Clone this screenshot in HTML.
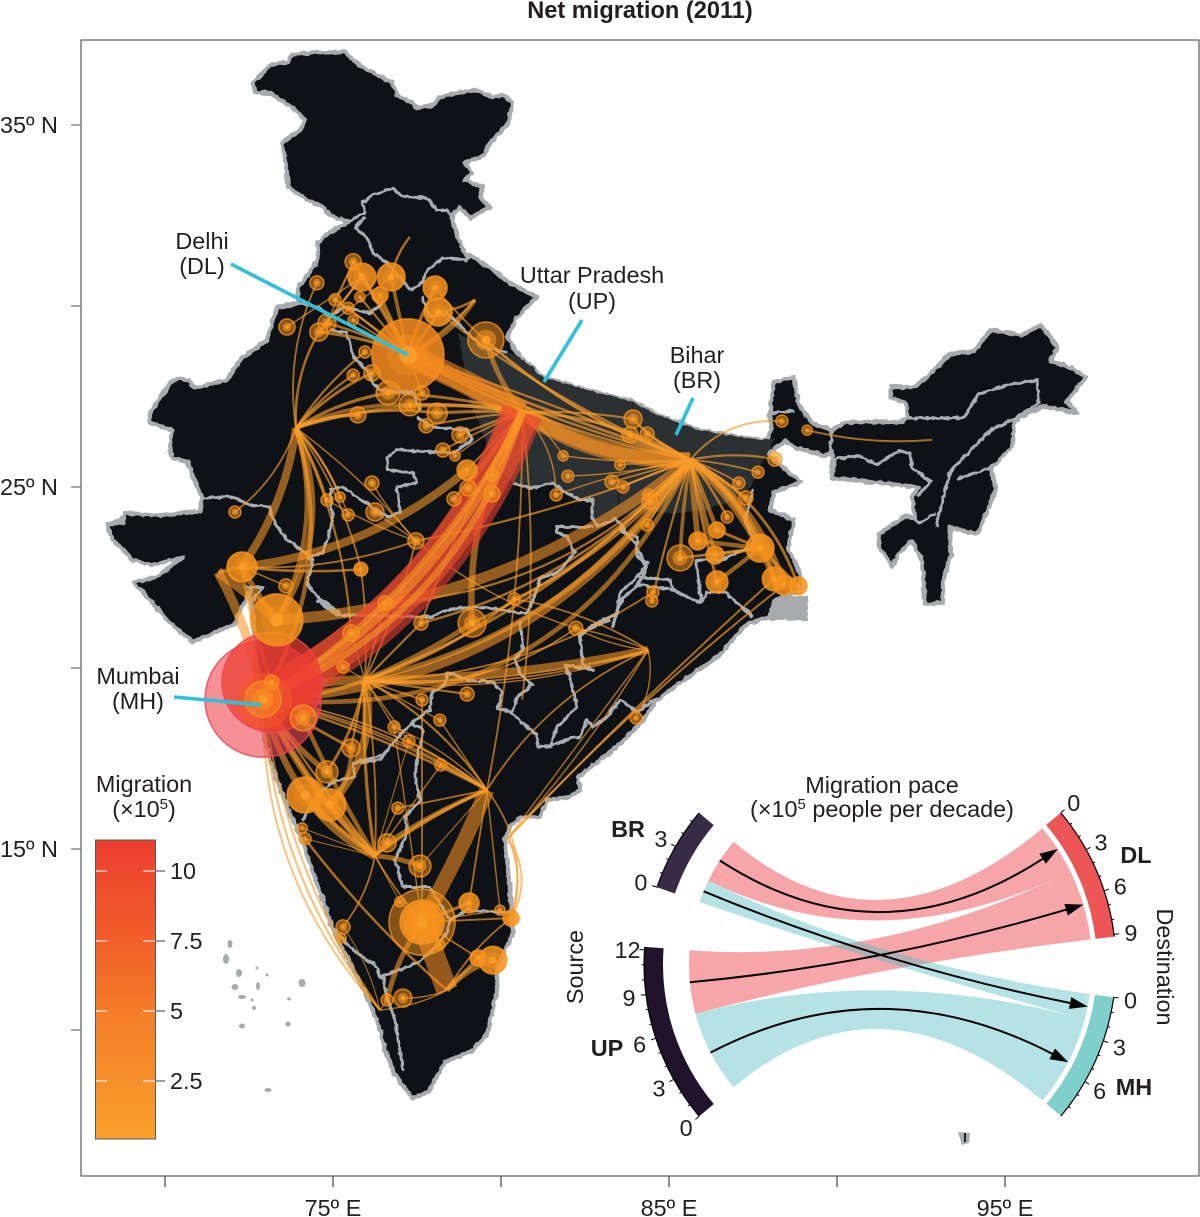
<!DOCTYPE html>
<html lang="en">
<head>
<meta charset="utf-8">
<title>Net migration (2011)</title>
<style>
html,body{margin:0;padding:0;background:#fff;}
svg{display:block;}
text{font-family:"Liberation Sans",sans-serif;fill:#231f20;}
</style>
</head>
<body>
<svg id="chart" xmlns="http://www.w3.org/2000/svg" width="1200" height="1217" viewBox="0 0 1200 1217">
<defs>
<filter id="rough" filterUnits="userSpaceOnUse" x="0" y="0" width="1200" height="1217" color-interpolation-filters="sRGB">
<feTurbulence type="fractalNoise" baseFrequency="0.17" numOctaves="2" seed="4" result="n"/>
<feDisplacementMap in="SourceGraphic" in2="n" scale="4" xChannelSelector="R" yChannelSelector="G"/>
</filter>
<linearGradient id="legendGrad" x1="0" y1="0" x2="0" y2="1">
<stop offset="0" stop-color="#ec3f31"/>
<stop offset="0.3" stop-color="#f15a29"/>
<stop offset="0.6" stop-color="#f47f29"/>
<stop offset="1" stop-color="#f9a02b"/>
</linearGradient>
</defs>

<text x="640" y="18" font-size="23.6" font-weight="bold" text-anchor="middle">Net migration (2011)</text>
<rect x="81" y="40" width="1118" height="1136" fill="none" stroke="#58595b" stroke-width="1.2"/>
<g id="axes"></g>

<g filter="url(#rough)">
<path d="M768,596L808,596L808,621L770,620Z" fill="#a7abad"/>
<path d="M106,522L128,514L124,540L108,536Z" fill="#a7abad"/>
<path fill="#0e1216" stroke="#a7abad" stroke-width="4.2" stroke-linejoin="round" d="M253,83L270,65L288,62L292,55L317,52L327,53L345,52L357,63L373,73L393,83L397,95L413,103L417,108L433,105L440,97L457,93L477,90L493,97L503,95L513,103L508,123L493,140L487,147L485,155L465,163L472,172L465,180L483,187L480,197L490,207L470,218L460,207L452,215L453,223L462,248L468,258L470,255L493,270L510,283L537,297L517,317L507,337L520,357L543,377L560,382L594,392L631,401L658,415L677,422L698,430L722,434L750,439L767,439L771,430L770,413L774,382L794,377L798,403L812,423L832,430L846,422L901,422L908,418L906,403L891,398L891,387L915,387L929,375L950,354L974,351L991,330L1022,335L1041,325L1058,348L1050,361L1067,366L1086,377L1067,401L1077,413L1043,406L1015,420L1012,447L991,468L996,489L988,510L977,534L950,527L951,554L943,582L943,603L925,604L922,561L912,541L898,554L893,566L879,548L879,534L905,516L915,518L912,496L919,487L832,478L832,451L825,456L808,451L794,447L786,441L767,453L780,465L801,482L774,492L770,510L794,520L788,548L801,575L800,590L775,600L770,617L745,625L720,655L680,683L657,700L643,720L627,737L613,750L600,760L578,777L580,790L570,797L547,800L540,817L520,817L510,827L505,840L510,890L513,933L497,967L497,990L487,1035L470,1052L445,1062L428,1092L412,1098L395,1075L385,1050L377,1020L367,997L350,963L333,930L323,900L313,873L303,843L290,813L278,783L270,760L258,710L255,640L250,590L237,617L237,623L193,642L170,623L150,600L133,582L157,577L170,567L183,557L153,565L133,560L113,540L107,525L123,523L125,513L157,515L170,515L185,512L200,512L202,498L193,477L188,462L173,458L170,452L172,430L150,423L150,413L170,383L178,378L188,380L195,388L227,380L233,370L243,357L267,340L277,307L298,303L298,288L318,260L318,242L330,232L348,222L330,215L323,207L307,200L288,187L285,157L282,143L300,130L305,120L293,108L270,93L255,92Z"/>
<path fill="#2b3033" d="M458,333L483,347L507,352L520,357L543,377L560,382L594,392L631,401L658,415L677,422L698,430L722,434L750,439L767,439L775,440L767,453L750,489L725,503L705,510L674,513L639,512L617,518L598,527L592,517L593,500L580,500L567,493L553,483L530,488L513,483L500,470L485,440L470,400Z"/>
<path fill="none" stroke="#a7adb0" stroke-width="3" stroke-linejoin="round" d="M348,222L365,212L362,203L373,195L393,188L403,197L427,198L437,210L447,210L452,215
M365,217L355,228L367,237L373,253L387,263L405,283L410,290
M468,260L443,258L427,270L422,283L410,290
M422,297L430,317L447,313L460,325L470,335L483,347L507,352
M297,303L318,307L330,317L343,307L370,313L383,303
M330,330L347,333L353,357L367,370L373,383L380,390L413,393L420,410
M417,417L433,427L467,430L472,440L453,453L397,450L387,457L388,470L413,473L417,483L397,487L400,513L387,517L357,497L343,487L330,490L333,520L327,540L323,553L307,557
M202,498L233,497L250,505L270,507L273,520L287,540L305,552L313,560L310,573L307,583L317,597L340,613
M247,587L263,587L253,600
M513,483L530,488L553,483L567,493L580,500L593,500L592,517L598,527L617,518
M317,600L337,615L430,617L447,610L473,607L507,610L517,613L527,613L537,590L540,578L557,573L575,552L567,537L557,532L557,527L593,527
M617,520L627,533L637,537L637,557L648,563L637,577L620,593L617,613L590,627L580,637L583,660
M637,577L670,580L675,592
M619,527L636,544L646,568L638,585L622,599L612,627
M638,585L670,589L701,603L707,592L725,592L753,617
M753,489L745,520L755,545L720,560L696,560L701,603
M520,620L523,647L515,660L520,673L532,685L517,697L512,713L527,727L537,735L538,747L550,746L573,737L580,737L587,720L593,727L607,717L620,700L637,712L657,698
M550,746L557,727L577,707L570,677L565,665L593,670L582,663L580,633L610,620
M447,672L445,685L432,692L430,710L412,723L402,733L393,743L380,760L360,763
M447,672L467,680L493,682L502,693L498,708L512,713
M412,723L423,730L418,753L415,777L420,800L405,817L407,833L395,860L403,887L430,887L450,920L467,910L510,913
M382,755L353,763L355,777L337,780L317,793L303,820
M333,928L353,950L377,967L380,977L383,977L387,997L395,1020L403,1070
M380,977L417,963L430,953L447,933L450,920
M908,418L936,418L963,418L979,394L1008,385L1037,380L1039,403L1012,420L991,430L963,458L950,472L936,527
M957,479L991,468
M836,458L860,456L877,465L898,451L910,453L912,468L931,482L917,496
M836,458L832,478
M912,516L919,523L936,513
M832,430L830,451
M770,413L794,411"/>
<path fill="none" stroke="#1d2124" stroke-width="1" d="M631,401L640,440L620,480L617,518"/>
</g>

<g fill="#a7abad">
<ellipse cx="230" cy="944" rx="2.5" ry="4"/>
<ellipse cx="226" cy="959" rx="3" ry="5"/>
<ellipse cx="239" cy="973" rx="3" ry="4"/>
<ellipse cx="235" cy="987" rx="3.5" ry="3"/>
<ellipse cx="258" cy="986" rx="2" ry="4"/>
<ellipse cx="257" cy="968" rx="1.5" ry="1.5"/>
<ellipse cx="267" cy="975" rx="1.5" ry="1.5"/>
<ellipse cx="242" cy="997" rx="4" ry="2"/>
<ellipse cx="252" cy="1000" rx="1.5" ry="1.5"/>
<ellipse cx="254" cy="1008" rx="2" ry="2"/>
<ellipse cx="289" cy="999" rx="2" ry="1.5"/>
<ellipse cx="302" cy="983" rx="3.5" ry="4"/>
<ellipse cx="242" cy="1026" rx="3" ry="2.5"/>
<ellipse cx="288" cy="1024" rx="2.5" ry="2.5"/>
<ellipse cx="268" cy="1090" rx="3.5" ry="2"/>
<path d="M958,1132L970,1133L969,1143L962,1145Z"/>
</g>
<path d="M964,1133L966,1133L966,1142L964,1142Z" fill="#1d2124"/>

<g id="flows" fill="none" stroke-linecap="butt"></g>
<g id="nodes"></g>

<g stroke="#2fc0dc" stroke-width="3.6" fill="none">
<path d="M231,264L408,355"/>
<path d="M582,320L544,382"/>
<path d="M693,398L676,435"/>
<path d="M174,697L261,705"/>
</g>
<g font-size="23.4" text-anchor="middle">
<text x="202" y="249">Delhi</text>
<text x="202" y="274">(DL)</text>
<text x="592" y="283">Uttar Pradesh</text>
<text x="592" y="309">(UP)</text>
<text x="697" y="363">Bihar</text>
<text x="697" y="388">(BR)</text>
<text x="138" y="684">Mumbai</text>
<text x="138" y="709">(MH)</text>
</g>

<g>
<text x="144" y="792" font-size="23.4" text-anchor="middle">Migration</text>
<text x="144" y="817" font-size="23.4" text-anchor="middle">(×10<tspan dy="-8" font-size="15">5</tspan><tspan dy="8">)</tspan></text>
<rect x="95.5" y="840" width="60" height="299" fill="url(#legendGrad)" stroke="#58595b" stroke-width="1"/>
<g id="legendTicks"></g>
</g>

<g id="chord"></g>
<g font-size="23.4">
<text x="882" y="793" text-anchor="middle">Migration pace</text>
<text x="882" y="817" text-anchor="middle">(×10<tspan dy="-8" font-size="15">5</tspan><tspan dy="8"> people per decade)</tspan></text>
<text transform="translate(583,967) rotate(-90)" text-anchor="middle">Source</text>
<text transform="translate(1157,967) rotate(90)" text-anchor="middle">Destination</text>
<text x="628" y="837" font-weight="bold" text-anchor="middle">BR</text>
<text x="607" y="1056" font-weight="bold" text-anchor="middle">UP</text>
<text x="1136" y="863" font-weight="bold" text-anchor="middle">DL</text>
<text x="1134" y="1095" font-weight="bold" text-anchor="middle">MH</text>
</g>
</svg>

<script>
// ---- axis data ----
const latTicks = [35, 30, 25, 20, 15, 10];
const latLabels = ['35º N', '', '25º N', '', '15º N', ''];
const lonTicks = [70, 75, 80, 85, 90, 95];
const lonLabels = ['', '75º E', '', '85º E', '', '95º E'];
const legendValues = [10, 7.5, 5, 2.5];
const legendTickLabels = ['10', '7.5', '5', '2.5'];

// ---- node data ----
const nodeIds = ['DL','n1','n2','n3','n4','n5','n6','n7','n8','n9','n10','n11','n12','n13','n14','UK','n15','n16','n17','n18','n19','n20','n21','n22','n23','n24','n25','n26','n27','n28','n29','n30','n31','n32','n33','n34','n35','n36','n37','n38','n39','n40','n41','n42','GJ1','n43','n44','n45','n46','n47','n48','n49','n50','n51','n52','n53','n54','n55','n56','n57','n58','n59','n60','n61','n62','n63','n64','n65','n66','n67','n68','n69','n70','n71','n72','n73','n74','n75','n76','n77','AH','MU','MU2','MU3','MU4','MU5','n78','n79','n80','n81','n82','n83','n84','n85','n86','n87','n88','n89','n90','n91','n92','n93','BL','BL2','n94','n95','n96','n97','n98','n99','n100','n101','n102','n103','n104','n105','hUP','hBR','hRJ','hGJ','hMH','hKA','hAP','hTN','hKL','hOD','hEC','hCG','hUK2','hHP','hNE'];
const nodeLon = [77.23,75.60,75.86,76.73,74.52,78.04,78.13,73.63,75.06,75.45,76.40,75.80,75.60,74.82,74.58,79.55,75.95,75.60,76.16,76.64,77.29,77.65,78.10,75.74,77.77,78.78,78.27,78.63,78.99,79.02,79.73,79.73,78.60,81.85,81.99,81.64,76.16,76.25,75.45,74.82,75.21,72.08,77.47,75.83,72.29,73.60,80.39,76.55,79.14,77.62,82.23,84.52,84.35,83.63,83.30,83.93,83.84,84.35,83.54,84.40,88.36,89.11,88.15,87.65,87.08,87.29,86.73,84.43,85.33,86.43,86.37,85.86,86.43,87.71,88.13,88.84,88.42,84.49,75.54,75.30,73.33,72.92,73.18,72.92,73.18,72.95,74.11,78.99,77.65,78.18,76.82,77.26,75.54,78.21,74.82,74.17,74.91,74.08,74.17,76.93,76.61,77.59,77.65,77.65,79.05,80.30,79.97,76.99,78.18,75.30,75.24,79.32,79.76,76.61,77.08,84.02,80.63,85.63,73.90,71.58,75.95,76.25,79.58,78.39,76.40,84.38,80.21,80.63,79.23,77.29,92.83];
const nodeLat = [28.65,31.22,30.80,30.80,30.64,30.50,29.83,29.42,30.17,29.94,30.30,30.25,29.61,29.53,29.28,29.06,28.73,28.09,28.15,27.60,27.27,27.60,27.04,26.99,26.69,26.44,26.02,25.86,25.47,24.97,25.33,24.81,24.67,25.86,25.30,24.78,25.11,24.31,24.23,24.64,24.72,24.31,23.51,22.73,22.79,22.27,21.91,21.80,21.24,21.24,21.10,22.10,23.95,25.00,25.14,26.88,26.44,26.46,25.61,24.78,26.82,26.57,25.77,25.41,25.11,24.70,24.17,24.61,23.04,22.38,23.12,23.51,23.81,23.31,22.46,22.27,22.29,21.85,20.97,20.03,21.33,19.14,19.61,19.14,19.61,19.10,18.62,19.28,19.12,18.56,18.37,17.98,17.79,17.32,17.13,16.49,16.22,15.58,15.28,16.13,15.17,14.53,12.98,12.98,13.51,13.09,13.31,13.54,12.35,12.85,12.54,11.99,11.93,10.83,10.88,18.62,27.07,25.75,26.63,22.65,19.67,14.81,16.63,11.10,10.55,20.50,15.30,19.12,30.17,31.91,26.30];
const nodeValue = [4,.2,.6,.6,.15,.44,.6,.2,.11,.11,.2,.08,.08,.25,.25,1,.11,.11,.2,.44,.37,.15,.31,.2,.15,.2,.15,.08,.31,.2,.11,.2,.15,.08,.11,.11,.15,.25,.11,.11,.08,.11,.2,.15,.69,.15,.11,.15,.6,.15,.15,.11,.11,.11,.15,.25,.2,.15,.08,.11,.11,.08,.15,.11,.11,.15,.11,.2,.52,.37,.25,.25,.2,.6,.44,.25,.31,.11,.2,.11,2.09,10.4,7.7,1,.15,2.4,.52,.15,.11,.11,.11,.11,.25,.11,.37,1,.79,.08,.11,.11,.25,.37,3.36,1.5,.31,.2,.08,.08,.08,.15,.08,.2,.6,.11,.25,.11,0,0,0,0,0,0,0,0,0,0,0,0,0,0,0];
const solidNodes = ['DL','n2','n3','n5','n6','GJ1','AH','n88','n87','n42','n27','n94','n95','n71','n72','n67','n74','n73','n102','n101','n68','n69','n70','BL2','n10'];

// ---- flow data: destinations, magnitudes (x10^5) and curvature for each origin ----
const fromGJ = ['AH','MU','GJ1'];          const valGJ = [2.8,2.6,1];           const bendGJ = [-.05,-.08,0];
const fromGJ1 = ['n27','n42','n41','AH','n43','MU2']; const valGJ1 = [2.3,.7,.5,1.6,.4,1.0]; const bendGJ1 = [.15,.05,.1,.05,0,.05];
const fromRJ = ['n4','n14','n15','n16','n17','n18','n19','n22','n21','hUP','n40','GJ1','AH','AH','n42','n39','n38','n76','MU2','n37','n41'];
const valRJ = [.5,.7,.6,.6,.8,.9,1,1,.8,1,.5,2.2,1.7,1.2,.5,.7,.6,.6,1.2,.4,.4];
const bendRJ = [-.15,-.15,-.08,-.08,-.1,-.1,-.12,-.1,-.12,-.12,-.15,-.12,-.26,-.2,-.1,-.1,-.05,-.1,-.2,-.1,-.06];
const fromDL = ['n1','n2','n3','n5','n6','n10','n11','n9','n12','n8','n13','n14','n20','hUK2','hUK2'];
const valDL = [.8,1,1,.9,.8,.8,.6,.5,.5,.6,.7,.9,.5,1.2,.6];
const bendDL = [0,.05,0,-.05,.05,0,0,0,0,.03,.05,.08,0,.15,.08];
const fromN2 = ['n7','n13','n14'];         const valN2 = [.4,.5,.7];            const bendN2 = [0,0,0];
const fromN1 = ['n13','n8'];               const valN1 = [.4,.3];               const bendN1 = [0,0];
const fromN3 = ['n14','hHP'];              const valN3 = [.4,.7];               const bendN3 = [0,-.12];
const fromN6 = ['hUK2'];                   const valN6 = [.7];                  const bendN6 = [.1];
const fromUK = ['hUP'];                    const valUK = [1.4];                 const bendUK = [.1];
const fromUP = ['DL','DL','n21','n19','n18','n23','n24','n25','n26','n27','n46','hCG','n47','n34','n32','hBR','n53','n29','n30','n28','n31'];
const valUP = [6.5,5,.9,.9,.8,.6,.7,.5,.4,.5,1.8,.5,.5,.4,.4,.8,.6,.6,.8,.8,.7];
const bendUP = [.02,0,.03,.05,.05,.03,.02,.02,.02,0,.15,-.06,.05,-.2,-.1,-.12,-.05,0,0,0,0];
const fromBRW = ['DL','DL','DL','DL','UK','n6','n5','hUP','hUP','AH','MU','hMH','MU','n46','n47','n45','n41','n44'];
const valBRW = [.7,.8,.6,.7,.6,.6,.5,4.2,4.2,3,2.6,1.4,1.3,.8,.7,.6,.6,.6];
const bendBRW = [-.05,-.02,.02,-.08,-.1,-.07,-.14,-.17,-.14,-.16,-.25,-.2,-.35,-.1,-.15,-.2,-.05,-.12];
const fromBRE = ['n53','n54','n55','n56','n52','n51','n65','n57','n33','n32','n34','n58','n60','n61','n62','n63','n64','n71','n71','n72','n74','n73','n70','n69','n68','n67','n66','n75','n50'];
const valBRE = [.7,.5,.6,.3,.5,.5,1,.6,.4,.4,.4,.55,.6,.5,.5,.7,.7,2.2,1.6,1.4,1.6,.8,1.2,1.6,1.2,.8,1,.6,.5];
const bendBRE = [-.1,0,0,0,0,.03,.03,0,-.05,-.05,.05,-.25,-.1,-.05,-.05,-.05,-.05,-.1,-.14,-.18,-.18,-.2,0,0,0,.02,.03,.02,.02];
const fromWB = ['n66','n69','n68','n67','n70','n72','n73'];  const valWB = [.8,1.2,1,1.2,.8,1.5,1];  const bendWB = [0,0,0,0,0,0,0];
const fromAS = ['hNE'];                    const valAS = [.55];                 const bendAS = [.08];
const fromOD = ['hMH','hMH','n48','n44','n105']; const valOD = [2.2,.5,.4,.5,.4]; const bendOD = [-.05,-.1,.05,.1,-.2];
const fromMH = ['n44','n46','n47','n48','n49','hBR','n79','n80','n81','n82','n83','n84','n88','n86','hAP','hKA','hKA','n76','n77','n42','n41','MU','MU','n45','hOD','hOD'];
const valMH = [.8,1.4,.6,.5,.5,.8,.6,.5,.4,.4,.4,.6,2.4,.8,.6,.9,.5,.4,.3,.5,.5,2.5,1,.5,.5,.4];
const bendMH = [.1,.05,0,.2,.15,.12,0,0,0,0,0,0,-.25,-.1,-.12,.05,-.05,0,0,.05,.05,.1,-.1,0,.08,.12];
const fromAP = ['hUP','n85','n83','n81','n82','n91','n92','n93','BL','hKA','MU','MU','n94','n95','n96','hOD'];
const valAP = [.5,.4,.5,.4,.4,.5,1.2,.3,4.2,.6,.7,.5,.5,.5,.4,.5];
const bendAP = [.05,0,.05,0,.1,0,.05,0,-.03,.05,.05,.08,0,-.25,0,-.15];
const fromEC = ['hOD','hOD','n95','n95'];  const valEC = [.4,.4,.55,.55];       const bendEC = [0,.05,-.3,-.2];
const fromN72 = ['hEC'];                   const valN72 = [.55];                const bendN72 = [.02];
const fromN74 = ['hEC'];                   const valN74 = [.55];                const bendN74 = [.04];
const fromKA = ['n92','n93','n99','BL','n91','n85','n97','hAP','n83'];
const valKA = [.9,1.4,.5,.5,.4,.4,.3,.6,.3];
const bendKA = [0,-.08,-.12,.05,0,0,0,-.08,0];
const fromN87 = ['hKA','hKA'];             const valN87 = [2.4,1.2];            const bendN87 = [.12,.06];
const fromN78 = ['hKA'];                   const valN78 = [1.2];                const bendN78 = [.03];
const fromN88 = ['hKA'];                   const valN88 = [1.8];                const bendN88 = [.03];
const fromMU = ['hKA','hKA','n84','n86','n87','n88','hAP','hAP','hKL','hKL','hKL'];
const valMU = [1.5,.6,.8,1.5,1.8,1.4,.5,.5,.55,.55,.5];
const bendMU = [.1,.02,0,.1,.1,.05,-.1,-.13,.12,.16,.2];
const fromN89 = ['hKA'];                   const valN89 = [.3];                 const bendN89 = [0];
const fromN90 = ['hKA','hTN'];             const valN90 = [.3,.7];              const bendN90 = [0,.05];
const fromN84 = ['n88'];                   const valN84 = [1.2];                const bendN84 = [-.2];
const fromBL = ['hTN','n103','n101','n95','n94','n97','n98','n82','n80','n96'];
const valBL = [6,1.4,.5,.5,.9,.3,.3,.4,.5,.4];
const bendBL = [0,.1,0,0,0,0,0,0,0,0];
const fromTN = ['n102','n101','n104','hKL','n95'];  const valTN = [1.6,1,.4,.4,.5];  const bendTN = [-.15,0,-.1,-.1,-.1];
const fromKL = ['n103','n99'];             const valKL = [.4,.3];               const bendKL = [0,.1];
const fromN38 = ['n41'];                   const valN38 = [.4];                 const bendN38 = [.05];
const fromN35 = ['n41'];                   const valN35 = [.4];                 const bendN35 = [.05];
const fromN36 = ['n41'];                   const valN36 = [.4];                 const bendN36 = [0];
const fromN41 = ['n48'];                   const valN41 = [.4];                 const bendN41 = [.1];
const fromN48 = ['hOD'];                   const valN48 = [.4];                 const bendN48 = [.1];
const streamTo = ['MU','MU','MU','MU','MU'];
const streamVal = [11.5,10,2.5,1.8,1.5];
const streamBend = [-.2,-.18,-.17,-.23,-.14];

// ---- chord data ----
const sectorNames = ['BR','UP','DL','MH'];
const sectorColors = ['#372b46','#211329','#ec5555','#7fcfcd'];
const sectorStartDeg = [199.1,140,-40,8];
const chordSource = ['BR','BR','UP','UP'];
const chordDest = ['MH','DL','MH','DL'];
const chordValue = [1.9,3.85,6.9,5.3];

// ---- axis functions ----
const SVGNS = 'http://www.w3.org/2000/svg';
const xLon = lon => 333 + (lon - 75) * 33.6;
const yLat = lat => 125 + (35 - lat) * 36.2;
const legendY = v => 1081 - (v - 2.5) * 28;
const widthOf = v => v * 3.6;
const radiusOf = v => 18 * Math.sqrt(v);

function mk(tag, parent, attrs) {
  const el = document.createElementNS(SVGNS, tag);
  for (const k in attrs) el.setAttribute(k, attrs[k]);
  parent.appendChild(el);
  return el;
}
function hex(c) { return [parseInt(c.slice(1,3),16), parseInt(c.slice(3,5),16), parseInt(c.slice(5,7),16)]; }
const colorStopValues = [0, 7, 11];
const colorStopColors = ['#f9a02b', '#f5851f', '#ec3f30'];
function flowColor(v) {
  let i = v < colorStopValues[1] ? 0 : 1;
  const t = Math.min(1, (v - colorStopValues[i]) / (colorStopValues[i+1] - colorStopValues[i]));
  const a = hex(colorStopColors[i]), b = hex(colorStopColors[i+1]);
  return 'rgb(' + a.map((x, j) => Math.round(x + (b[j] - x) * t)).join(',') + ')';
}

// ---- axes ----
const axes = document.getElementById('axes');
latTicks.forEach((lat, i) => {
  const t = mk('line', axes, {x1:71, x2:81, y1:yLat(lat), y2:yLat(lat), stroke:'#808285', 'stroke-width':1.4});
  
  
  if (latLabels[i]) {
    const l = mk('text', axes, {x:0, y:yLat(lat)+8, 'font-size':23.4});
    l.textContent = latLabels[i];
    
    
  }
});
lonTicks.forEach((lon, i) => {
  const t = mk('line', axes, {x1:xLon(lon), x2:xLon(lon), y1:1176, y2:1187, stroke:'#414042', 'stroke-width':1.2});
  
  
  if (lonLabels[i]) {
    const l = mk('text', axes, {x:xLon(lon), y:1216, 'font-size':23.4, 'text-anchor':'middle'});
    l.textContent = lonLabels[i];
    
    
  }
});

// ---- legend ----
const legendTicks = document.getElementById('legendTicks');
legendValues.forEach((v, i) => {
  const y = legendY(v);
  const g = mk('g', legendTicks, {});
  
  
  mk('line', g, {x1:96, x2:107, y1:y, y2:y, stroke:'#fff', 'stroke-opacity':.75, 'stroke-width':1.4});
  mk('line', g, {x1:143, x2:155, y1:y, y2:y, stroke:'#fff', 'stroke-opacity':.75, 'stroke-width':1.4});
  mk('line', g, {x1:155, x2:165, y1:y, y2:y, stroke:'#58595b', 'stroke-width':1.2});
  const l = mk('text', legendTicks, {x:170, y:y+8, 'font-size':23.4});
  l.textContent = legendTickLabels[i];
  
  
});

// ---- flows ----
const flowsG = document.getElementById('flows');
function nodeXY(id) {
  const i = nodeIds.indexOf(id);
  return [xLon(nodeLon[i]), yLat(nodeLat[i])];
}
function drawHub(from, to, vals, bends) {
  const [x0, y0] = nodeXY(from);
  to.forEach((dest, i) => {
    const [x1, y1] = nodeXY(dest);
    const dx = x1 - x0, dy = y1 - y0;
    const cx = (x0 + x1) / 2 - dy * bends[i];
    const cy = (y0 + y1) / 2 + dx * bends[i];
    const v = vals[i];
    const p = mk('path', flowsG, {
      d: 'M' + x0.toFixed(1) + ',' + y0.toFixed(1) + 'Q' + cx.toFixed(1) + ',' + cy.toFixed(1) + ' ' + x1.toFixed(1) + ',' + y1.toFixed(1),
      stroke: flowColor(v),
      'stroke-opacity': v < 1 ? .66 : .58,
      'stroke-width': widthOf(v).toFixed(2)
    });
    
    
  });
}
drawHub('hBR', fromBRW, valBRW, bendBRW);
drawHub('hGJ', fromGJ, valGJ, bendGJ);
drawHub('GJ1', fromGJ1, valGJ1, bendGJ1);
drawHub('hRJ', fromRJ, valRJ, bendRJ);
drawHub('DL', fromDL, valDL, bendDL);
drawHub('n2', fromN2, valN2, bendN2);
drawHub('n1', fromN1, valN1, bendN1);
drawHub('n3', fromN3, valN3, bendN3);
drawHub('n6', fromN6, valN6, bendN6);
drawHub('UK', fromUK, valUK, bendUK);
drawHub('hBR', fromBRE, valBRE, bendBRE);
drawHub('n71', fromWB, valWB, bendWB);
drawHub('n59', fromAS, valAS, bendAS);
drawHub('hOD', fromOD, valOD, bendOD);
drawHub('hMH', fromMH, valMH, bendMH);
drawHub('hAP', fromAP, valAP, bendAP);
drawHub('hEC', fromEC, valEC, bendEC);
drawHub('n72', fromN72, valN72, bendN72);
drawHub('n74', fromN74, valN74, bendN74);
drawHub('hKA', fromKA, valKA, bendKA);
drawHub('n87', fromN87, valN87, bendN87);
drawHub('n78', fromN78, valN78, bendN78);
drawHub('n88', fromN88, valN88, bendN88);
drawHub('MU', fromMU, valMU, bendMU);
drawHub('n89', fromN89, valN89, bendN89);
drawHub('n90', fromN90, valN90, bendN90);
drawHub('n84', fromN84, valN84, bendN84);
drawHub('BL', fromBL, valBL, bendBL);
drawHub('hTN', fromTN, valTN, bendTN);
drawHub('hKL', fromKL, valKL, bendKL);
drawHub('n38', fromN38, valN38, bendN38);
drawHub('n35', fromN35, valN35, bendN35);
drawHub('n36', fromN36, valN36, bendN36);
drawHub('n41', fromN41, valN41, bendN41);
drawHub('n48', fromN48, valN48, bendN48);
drawHub('hUP', fromUP, valUP, bendUP);
drawHub('hUP', streamTo, streamVal, streamBend);

// ---- nodes ----
const nodesG = document.getElementById('nodes');
const paintOrder = nodeIds.map((id, i) => i).filter(i => nodeValue[i] > 0).sort((a, b) => nodeValue[b] - nodeValue[a]);
paintOrder.forEach(i => {
  const id = nodeIds[i], v = nodeValue[i];
  const x = xLon(nodeLon[i]), y = yLat(nodeLat[i]), r = radiusOf(v);
  const g = mk('g', nodesG, {});
  
  
  if (v > 6) {
    const red = v > 9 ? '#ee4650' : '#ec3b2d';
    mk('circle', g, {cx:x, cy:y, r:r, fill:red, 'fill-opacity':v > 9 ? .6 : .7, stroke:'#ee4455', 'stroke-opacity':.8, 'stroke-width':1.6});
    return;
  }
  if (id === 'MU5') {
    mk('circle', g, {cx:x, cy:y, r:r, fill:'#f2582a', 'fill-opacity':.55});
    return;
  }
  const solid = solidNodes.indexOf(id) >= 0;
  const col = id === 'DL' ? '#f68b1f' : '#f7931e';
  mk('circle', g, {cx:x, cy:y, r:r, fill:col, 'fill-opacity':solid ? .85 : .5, stroke:'#f7931e', 'stroke-opacity':.8, 'stroke-width':1.5});
  mk('circle', g, {cx:x, cy:y, r:r*.58, fill:'#f7931e', 'fill-opacity':solid ? .35 : .6});
  mk('circle', g, {cx:x, cy:y, r:r*.25, fill:'#f99d2a', 'fill-opacity':.9});
});

// ---- chord diagram ----
const chordG = document.getElementById('chord');
const CX = 880, CY = 964.5, DEG = 3.63;
const R_OUT = 236, R_IN = 217, R_SRC = 191, R_DST = 212, R_LAB = 253;
const polar = (r, a) => [CX + r * Math.cos(a * Math.PI / 180), CY + r * Math.sin(a * Math.PI / 180)];
const pt = p => p[0].toFixed(1) + ',' + p[1].toFixed(1);
const sectorTotal = name => chordValue.reduce((s, v, i) => s + ((chordSource[i] === name || chordDest[i] === name) ? v : 0), 0);
const cursor = {};
sectorNames.forEach((n, i) => { cursor[n] = sectorStartDeg[i]; });

const spans = chordValue.map((v, i) => {
  const s0 = cursor[chordSource[i]], s1 = s0 + v * DEG;
  cursor[chordSource[i]] = s1;
  const d0 = cursor[chordDest[i]], d1 = d0 + v * DEG;
  cursor[chordDest[i]] = d1;
  return {s0, s1, d0, d1};
});
const ribbonOrder = [1, 3, 2, 0];
ribbonOrder.forEach(i => {
  const sp = spans[i];
  const isDL = chordDest[i] === 'DL';
  const rib = mk('path', chordG, {
    d: 'M' + pt(polar(R_SRC, sp.s1)) + 'Q' + CX + ',' + CY + ' ' + pt(polar(R_DST, sp.d0)) +
       'A' + R_DST + ',' + R_DST + ' 0 0 1 ' + pt(polar(R_DST, sp.d1)) +
       'Q' + CX + ',' + CY + ' ' + pt(polar(R_SRC, sp.s0)) +
       'A' + R_SRC + ',' + R_SRC + ' 0 0 1 ' + pt(polar(R_SRC, sp.s1)) + 'Z',
    fill: isDL ? '#ee555a' : '#5abec3',
    'fill-opacity': isDL ? .53 : .45
  });
  
  
});
ribbonOrder.forEach(i => {
  const sp = spans[i];
  const a = polar(R_SRC, (sp.s0 + sp.s1) / 2);
  const b = polar(R_DST, (sp.d0 + sp.d1) / 2);
  const tail = Math.hypot(b[0] - CX, b[1] - CY);
  const L = 18, W = 6;
  const dirx = (b[0] - CX) / tail, diry = (b[1] - CY) / tail;
  const bx = b[0] - dirx * L, by = b[1] - diry * L;
  const line = mk('path', chordG, {
    d: 'M' + pt(a) + 'Q' + CX + ',' + CY + ' ' + bx.toFixed(1) + ',' + by.toFixed(1),
    fill: 'none', stroke: '#000', 'stroke-width': 2
  });
  
  
  const head = mk('polygon', chordG, {
    points: b[0].toFixed(1) + ',' + b[1].toFixed(1) + ' ' +
      (bx - diry * W).toFixed(1) + ',' + (by + dirx * W).toFixed(1) + ' ' +
      (bx + diry * W).toFixed(1) + ',' + (by - dirx * W).toFixed(1),
    fill: '#000'
  });
  
  
});
sectorNames.forEach((n, i) => {
  const a0 = sectorStartDeg[i], total = sectorTotal(n), a1 = a0 + total * DEG;
  const sector = mk('path', chordG, {
    d: 'M' + pt(polar(R_OUT, a0)) + 'A' + R_OUT + ',' + R_OUT + ' 0 0 1 ' + pt(polar(R_OUT, a1)) +
       'L' + pt(polar(R_IN, a1)) + 'A' + R_IN + ',' + R_IN + ' 0 0 0 ' + pt(polar(R_IN, a0)) + 'Z',
    fill: sectorColors[i]
  });
  
  
  const rim = mk('path', chordG, {
    d: 'M' + pt(polar(R_OUT, a0)) + 'A' + R_OUT + ',' + R_OUT + ' 0 0 1 ' + pt(polar(R_OUT, a1)),
    fill: 'none', stroke: '#000', 'stroke-width': 1.2
  });
  
  
  for (let u = 0; u <= total; u += 1) {
    const ang = a0 + u * DEG;
    const major = u % 3 === 0;
    const p0 = polar(R_OUT, ang), p1 = polar(R_OUT + (major ? 5 : 2.5), ang);
    const t = mk('line', chordG, {x1:p0[0], y1:p0[1], x2:p1[0], y2:p1[1], stroke:'#000', 'stroke-width':1});
    
    
    if (major) {
      const q = polar(R_LAB, ang);
      const l = mk('text', chordG, {x:q[0], y:q[1] + 9, 'font-size':23.4, 'text-anchor':'middle'});
      l.textContent = String(u);
      
      
    }
  }
});
</script>
</body>
</html>
